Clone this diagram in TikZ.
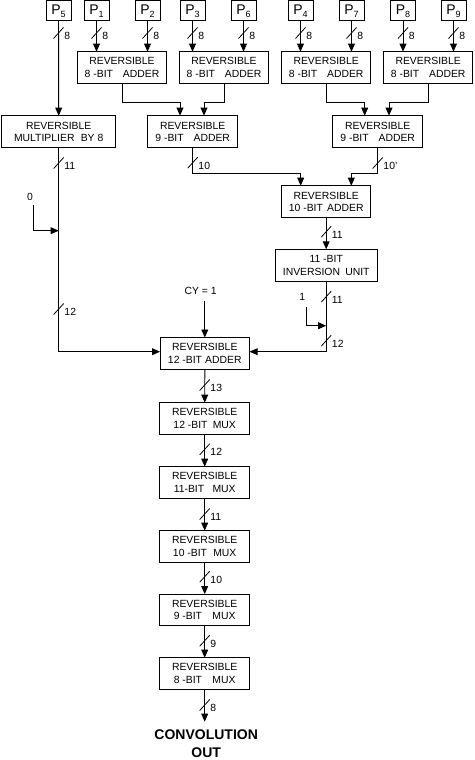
\documentclass[tikz,border=0pt]{standalone}
\usepackage{fontspec}
\setmainfont{Liberation Sans}
\usetikzlibrary{arrows.meta,calc}
\newcommand\psub[1]{\raisebox{-3pt}{\fontsize{9}{9}\selectfont #1}}
\newcommand\busmark[3]{%
  \draw[line width=0.8pt] (#1-5,#2+5.5) -- (#1+5,#2-5.5);
  \node[lbl,anchor=west] at (#1+5.3,#2+2.8) {#3};}
\begin{document}
\begin{tikzpicture}[x=1pt,y=-1pt,line width=0.95pt,
  >={Triangle[length=8pt,width=6.8pt]},
  box/.style={draw,rectangle,inner sep=0pt,outer sep=0pt,align=center,
    font=\fontsize{10.4}{12.5}\selectfont},
  abox/.style={box,minimum width=89.5pt,minimum height=31.6pt},
  pbox/.style={draw,rectangle,inner sep=0pt,outer sep=0pt,minimum width=25pt,
    minimum height=20pt,font=\fontsize{14}{14}\selectfont},
  lbl/.style={inner sep=0pt,font=\fontsize{10.4}{12}\selectfont},
  conn/.style={->}]
\useasboundingbox (0,0) rectangle (474,760);
% top inputs
\node[pbox] (p5) at (58.5,10.8) {P\psub{5}};
\node[pbox] (p1) at (96.5,10.8) {P\psub{1}};
\node[pbox] (p2) at (147.5,10.8) {P\psub{2}};
\node[pbox] (p3) at (192.5,10.8) {P\psub{3}};
\node[pbox] (p6) at (243.5,10.8) {P\psub{6}};
\node[pbox] (p4) at (300.5,10.8) {P\psub{4}};
\node[pbox] (p7) at (351.5,10.8) {P\psub{7}};
\node[pbox] (p8) at (403,10.8) {P\psub{8}};
\node[pbox] (p9) at (453.5,10.8) {P\psub{9}};
% 8-bit adders
\node[abox] (a1) at (122,67.5) {REVERSIBLE\\8 -BIT\hspace{0.95em}ADDER};
\node[abox] (a2) at (224,67.5) {REVERSIBLE\\8 -BIT\hspace{0.95em}ADDER};
\node[abox] (a3) at (326.2,67.5) {REVERSIBLE\\8 -BIT\hspace{0.95em}ADDER};
\node[abox] (a4) at (428.2,67.5) {REVERSIBLE\\8 -BIT\hspace{0.95em}ADDER};
% second row
\node[box,minimum width=114pt,minimum height=32pt] (mult) at (58.7,131.7) {REVERSIBLE\\MULTIPLIER\hspace{0.6em}BY 8};
\node[abox,minimum height=32pt] (b1) at (192.7,131.7) {REVERSIBLE\\9 -BIT\hspace{0.95em}ADDER};
\node[abox,minimum height=32pt] (b2) at (377.7,131.7) {REVERSIBLE\\9 -BIT\hspace{0.95em}ADDER};
% 10-bit adder and inversion
\node[abox,minimum height=32pt] (c) at (326.2,201.7) {REVERSIBLE\\10 -BIT\hspace{0.4em}ADDER};
\node[box,minimum width=102.3pt,minimum height=32.4pt] (d) at (326.2,265.5) {11 -BIT\\INVERSION\hspace{0.5em}UNIT};
% 12-bit adder and mux chain
\node[abox] (e) at (204.8,353.3) {REVERSIBLE\\12 -BIT\hspace{0.3em}ADDER};
\node[abox] (m12) at (204.7,418.5) {REVERSIBLE\\12 -BIT\hspace{0.5em}MUX};
\node[abox] (m11) at (204.7,482.5) {REVERSIBLE\\11-BIT\hspace{0.8em}MUX};
\node[abox] (m10) at (204.7,546.5) {REVERSIBLE\\10 -BIT\hspace{0.6em}MUX};
\node[abox] (m9) at (204.7,609.9) {REVERSIBLE\\9 -BIT\hspace{1em}MUX};
\node[abox] (m8) at (204.7,673.5) {REVERSIBLE\\8 -BIT\hspace{1em}MUX};
\coordinate (outend) at (204.7,721.7);
\node[align=center,inner sep=0pt,font=\fontsize{14}{17.7}\selectfont\bfseries] (out) at (206.2,744) {CONVOLUTION\\OUT};
% side inputs
\node[lbl] (zero) at (30,196.7) {0};
\coordinate (z0) at (33,205);
\coordinate (zj) at (58.7,230.7);
\node[lbl] (one) at (302.3,296.7) {1};
\coordinate (o0) at (306.7,306.7);
\coordinate (oj) at (326.2,325.7);
\node[lbl] (cy) at (200.7,290.7) {CY = 1};
\coordinate (cy0) at (204.8,300.7);
% connectors
\draw[conn] (p5.south) -- (mult.north);
\draw[conn] (p1.south) -- (p1.south |- a1.north);
\draw[conn] (p2.south) -- (p2.south |- a1.north);
\draw[conn] (p3.south) -- (p3.south |- a2.north);
\draw[conn] (p6.south) -- (p6.south |- a2.north);
\draw[conn] (p4.south) -- (p4.south |- a3.north);
\draw[conn] (p7.south) -- (p7.south |- a3.north);
\draw[conn] (p8.south) -- (p8.south |- a4.north);
\draw[conn] (p9.south) -- (p9.south |- a4.north);
\draw[conn] (a1.south) -- ++(0,18.7) -| ([xshift=-12.7pt]b1.north);
\draw[conn] (a2.south) -- ++(0,18.7) -| ([xshift=11.3pt]b1.north);
\draw[conn] (a3.south) -- ++(0,18.7) -| ([xshift=-13pt]b2.north);
\draw[conn] (a4.south) -- ++(0,18.7) -| ([xshift=11.3pt]b2.north);
\draw[conn] (b1.south) -- ++(0,25.6) -| ([xshift=-25.5pt]c.north);
\draw[conn] (b2.south) -- ++(0,25.6) -| ([xshift=25.1pt]c.north);
\draw[conn] (c.south) -- (d.north);
\draw[conn] (d.south) |- ([yshift=1.6pt]e.east);
\draw[conn] (mult.south) |- ([yshift=1.6pt]e.west);
\draw[conn] (z0) |- (zj);
\draw[conn] (o0) |- (oj);
\draw[conn] (cy0) -- (e.north);
\draw[conn] (e.south) -- (m12.north);
\draw[conn] (m12.south) -- (m11.north);
\draw[conn] (m11.south) -- (m10.north);
\draw[conn] (m10.south) -- (m9.north);
\draw[conn] (m9.south) -- (m8.north);
\draw[conn] (m8.south) -- (outend);
% bus width marks
\busmark{58.5}{33}{8}
\busmark{96.5}{33}{8}
\busmark{147.5}{33}{8}
\busmark{192.5}{33}{8}
\busmark{243.5}{33}{8}
\busmark{300.5}{33}{8}
\busmark{351.5}{33}{8}
\busmark{403}{33}{8}
\busmark{453.5}{33}{8}
\busmark{58.7}{163}{11}
\busmark{58.7}{309}{12}
\busmark{192.7}{162.7}{10}
\busmark{377.7}{163}{10'}
\busmark{326.2}{231.7}{11}
\busmark{326.2}{296.7}{11}
\busmark{326.2}{340.7}{12}
\busmark{204.7}{385}{13}
\busmark{204.7}{449.3}{12}
\busmark{204.7}{514}{11}
\busmark{204.7}{576.7}{10}
\busmark{204.7}{640.7}{9}
\busmark{204.7}{705}{8}
\end{tikzpicture}
\end{document}
